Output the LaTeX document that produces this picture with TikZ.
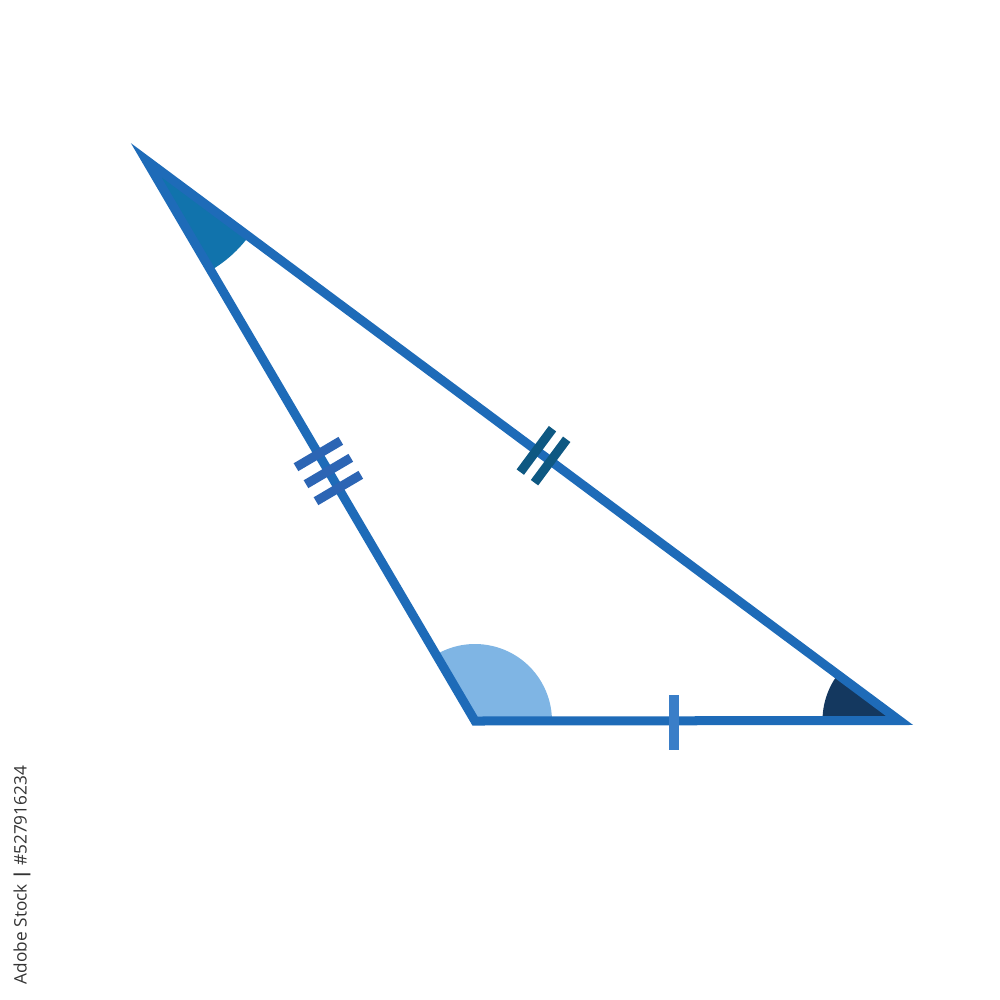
\documentclass[tikz,border=0pt]{standalone}
\usepackage{fontspec}
\newfontfamily\wmfont{Open Sans}
\definecolor{linecol}{RGB}{30,107,184}
\definecolor{apexcol}{RGB}{17,115,172}
\definecolor{obtcol}{RGB}{127,181,228}
\definecolor{acutecol}{RGB}{20,56,95}
\definecolor{tripcol}{RGB}{44,101,180}
\definecolor{dblcol}{RGB}{14,88,130}
\definecolor{sglcol}{RGB}{58,126,200}
\definecolor{wmcol}{RGB}{51,51,51}
\begin{document}
\begin{tikzpicture}[x=0.01cm,y=-0.01cm,
  side/.style={draw=linecol,line width=2.56pt,line join=miter},
  tickmark/.style={line width=2.6pt,line cap=butt}]
\useasboundingbox (0,0) rectangle (1000,1000);
\coordinate (A) at (146,160);
\coordinate (B) at (475,721);
\coordinate (C) at (899.5,720.5);
% angle sectors
\fill[apexcol] (A) -- ++(36.6:128) arc[start angle=36.6,end angle=59.6,radius=128] -- cycle;
\fill[obtcol] (B) -- ++(-120.4:77) arc[start angle=-120.4,end angle=0,radius=77] -- cycle;
\fill[acutecol] (C) -- ++(180:77) arc[start angle=180,end angle=216.6,radius=77] -- cycle;
% sides
\draw[side] (A) -- (B) -- (C) -- cycle;
% triple ticks on AB
\draw[tickmark,tripcol] (296,467.2) -- (340.8,440.8);
\draw[tickmark,tripcol] (306,484.2) -- (350.8,457.8);
\draw[tickmark,tripcol] (316,501.2) -- (360.8,474.8);
% double ticks on AC
\draw[tickmark,dblcol] (520.3,472.1) -- (552.5,428.7);
\draw[tickmark,dblcol] (534.5,482.7) -- (566.7,439.3);
% single tick on BC
\draw[tickmark,sglcol,line width=2.85pt] (674,695) -- (674,750);
% credit text
\node[rotate=90,text=wmcol,inner sep=0pt,font=\wmfont\fontsize{4.9}{6}\selectfont] (wm) at (22,875) {Adobe Stock \textbf{|} \#527916234};
\end{tikzpicture}
\end{document}
